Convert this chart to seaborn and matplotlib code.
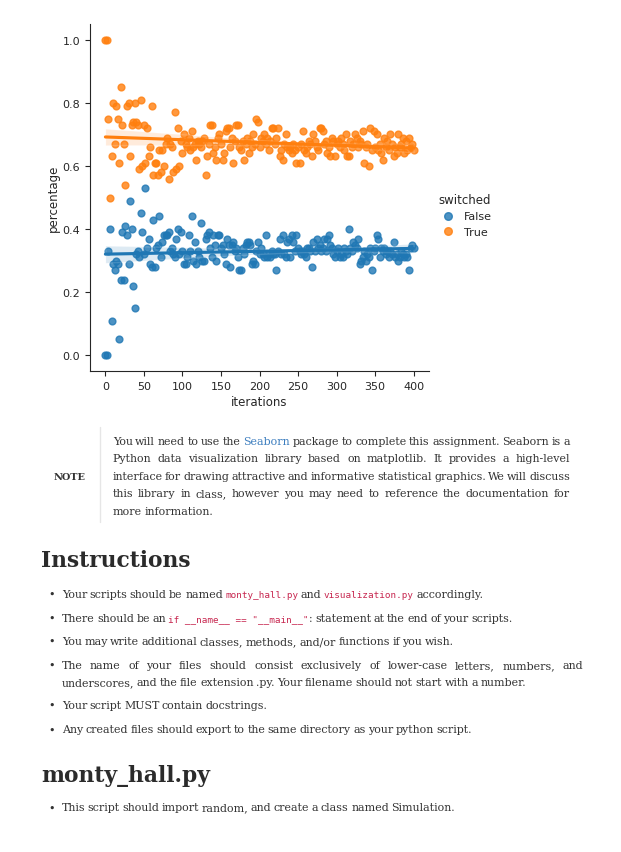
import matplotlib
matplotlib.use("Agg")
import numpy as np
import pandas as pd
import matplotlib.pyplot as plt
from matplotlib.lines import Line2D
import seaborn as sns


## DATOS DEL GRÁFICO ##

iterations = list(range(0, 401, 2))

# porcentaje de victorias sin cambiar de puerta (switched = False)
pct_stay = [
    0.00, 0.00, 0.33, 0.40, 0.11, 0.29, 0.27, 0.30, 0.29, 0.05,
    0.24, 0.39, 0.24, 0.41, 0.38, 0.29, 0.49, 0.40, 0.22, 0.15,
    0.32, 0.33, 0.31, 0.45, 0.39, 0.32, 0.53, 0.34, 0.37, 0.29,
    0.28, 0.43, 0.28, 0.34, 0.35, 0.44, 0.31, 0.36, 0.38, 0.38,
    0.38, 0.39, 0.33, 0.34, 0.32, 0.31, 0.37, 0.40, 0.32, 0.39,
    0.33, 0.29, 0.29, 0.31, 0.38, 0.33, 0.44, 0.30, 0.36, 0.29,
    0.33, 0.31, 0.42, 0.30, 0.30, 0.37, 0.38, 0.39, 0.34, 0.31,
    0.38, 0.35, 0.30, 0.38, 0.38, 0.34, 0.35, 0.32, 0.29, 0.37,
    0.35, 0.28, 0.35, 0.36, 0.33, 0.34, 0.31, 0.27, 0.27, 0.34,
    0.32, 0.35, 0.36, 0.36, 0.35, 0.29, 0.30, 0.29, 0.33, 0.36,
    0.32, 0.34, 0.32, 0.31, 0.38, 0.31, 0.32, 0.31, 0.33, 0.32,
    0.32, 0.27, 0.33, 0.37, 0.32, 0.38, 0.32, 0.31, 0.36, 0.37,
    0.31, 0.38, 0.36, 0.33, 0.38, 0.34, 0.33, 0.32, 0.33, 0.32,
    0.31, 0.34, 0.34, 0.33, 0.28, 0.36, 0.33, 0.37, 0.34, 0.35,
    0.33, 0.34, 0.37, 0.33, 0.37, 0.38, 0.35, 0.34, 0.32, 0.31,
    0.33, 0.34, 0.31, 0.32, 0.31, 0.34, 0.33, 0.32, 0.40, 0.34,
    0.33, 0.36, 0.35, 0.34, 0.37, 0.29, 0.30, 0.31, 0.33, 0.30,
    0.32, 0.31, 0.34, 0.27, 0.33, 0.34, 0.38, 0.37, 0.31, 0.34,
    0.33, 0.34, 0.32, 0.33, 0.31, 0.33, 0.32, 0.36, 0.31, 0.32,
    0.30, 0.31, 0.33, 0.32, 0.31, 0.32, 0.31, 0.27, 0.34, 0.35,
    0.34,
]

# porcentaje de victorias cambiando de puerta (switched = True)
pct_switch = [
    1.00, 1.00, 0.75, 0.50, 0.63, 0.80, 0.67, 0.79, 0.75, 0.61,
    0.85, 0.73, 0.67, 0.54, 0.79, 0.80, 0.63, 0.73, 0.74, 0.80,
    0.74, 0.73, 0.59, 0.81, 0.60, 0.73, 0.61, 0.72, 0.63, 0.66,
    0.79, 0.57, 0.61, 0.61, 0.57, 0.65, 0.58, 0.65, 0.60, 0.67,
    0.69, 0.56, 0.67, 0.66, 0.58, 0.77, 0.59, 0.72, 0.60, 0.68,
    0.64, 0.70, 0.67, 0.66, 0.69, 0.65, 0.71, 0.66, 0.67, 0.62,
    0.68, 0.67, 0.66, 0.68, 0.69, 0.57, 0.63, 0.67, 0.73, 0.73,
    0.64, 0.66, 0.62, 0.69, 0.70, 0.67, 0.62, 0.64, 0.71, 0.72,
    0.72, 0.66, 0.69, 0.61, 0.68, 0.73, 0.73, 0.66, 0.65, 0.68,
    0.62, 0.67, 0.69, 0.64, 0.68, 0.66, 0.70, 0.67, 0.75, 0.74,
    0.66, 0.69, 0.68, 0.70, 0.67, 0.69, 0.65, 0.68, 0.72, 0.72,
    0.67, 0.69, 0.72, 0.63, 0.65, 0.62, 0.67, 0.70, 0.66, 0.65,
    0.66, 0.64, 0.67, 0.65, 0.61, 0.66, 0.61, 0.67, 0.71, 0.65,
    0.64, 0.66, 0.68, 0.67, 0.63, 0.70, 0.68, 0.66, 0.65, 0.72,
    0.72, 0.71, 0.67, 0.68, 0.64, 0.66, 0.63, 0.69, 0.68, 0.63,
    0.67, 0.68, 0.66, 0.69, 0.67, 0.65, 0.70, 0.63, 0.63, 0.68,
    0.66, 0.67, 0.70, 0.69, 0.66, 0.68, 0.67, 0.71, 0.61, 0.66,
    0.67, 0.60, 0.72, 0.65, 0.71, 0.66, 0.70, 0.65, 0.67, 0.64,
    0.62, 0.69, 0.66, 0.68, 0.65, 0.70, 0.67, 0.63, 0.66, 0.64,
    0.70, 0.66, 0.67, 0.69, 0.64, 0.68, 0.65, 0.69, 0.66, 0.67,
    0.65,
]

switched_labels = ["False", "True"]

note_lines = [
    "You will need to use the Seaborn package to complete this assignment. Seaborn is a",
    "Python data visualization library based on matplotlib. It provides a high-level",
    "interface for drawing attractive and informative statistical graphics. We will discuss",
    "this library in class, however you may need to reference the documentation for",
    "more information.",
]


## ESTILO ##

sns.set_style("ticks")
plt.rcParams["font.family"] = ["DejaVu Sans"]

W, H = 621, 853
SERIF = "DejaVu Serif"
MONO = "DejaVu Sans Mono"
TXT = "#333333"
CODE = "#c7254e"
LINK = "#3d7ebf"
GAP = 0.7  # espacio entre palabras algo más estrecho que el de DejaVu

df = pd.DataFrame({
    "iterations": iterations * 2,
    "percentage": pct_stay + pct_switch,
    "switched": [False] * len(pct_stay) + [True] * len(pct_switch),
})

fig = plt.figure(figsize=(W / 100, H / 100), dpi=100)
fig.patch.set_facecolor("white")


## GRÁFICO DE REGRESIÓN ##

ax = fig.add_axes([90 / W, 1 - 372 / H, 339 / W, 347 / H])
palette = sns.color_palette()
for i, (flag, grp) in enumerate(df.groupby("switched")):
    sns.regplot(data=grp, x="iterations", y="percentage", ax=ax,
                color=palette[i], scatter_kws={"s": 24}, seed=0)

ax.set_xlim(-20, 420)
ax.set_ylim(-0.05, 1.05)
ax.set_xticks(range(0, 401, 50))
ax.set_yticks([0.0, 0.2, 0.4, 0.6, 0.8, 1.0])
ax.tick_params(labelsize=8, length=3.5, width=0.8)
ax.set_xlabel("iterations", fontsize=8.5, labelpad=3)
ax.set_ylabel("percentage", fontsize=8.5, labelpad=2)
sns.despine(ax=ax)

handles = [Line2D([], [], marker="o", ls="", color=palette[i], alpha=0.8,
                  markersize=5.5) for i in range(2)]
fig.legend(handles, switched_labels, title="switched", loc="center left",
           bbox_to_anchor=(427 / W, 1 - 216 / H), frameon=False,
           fontsize=8, title_fontsize=8.5, handletextpad=0.4, labelspacing=0.5)


## TEXTO DEL DOCUMENTO ##

renderer = fig.canvas.get_renderer()


def measure(s, **kw):
    t = fig.text(0, 0, s, **kw)
    w = t.get_window_extent(renderer).width
    t.remove()
    return w


def adv(s, **kw):
    # avance real del texto, entre dos barras
    return measure("|" + s + "|", **kw) - measure("||", **kw)


def words(s, st, gap_first=True):
    out = []
    for k, w in enumerate(s.split()):
        out.append((w, st, gap_first or k > 0))
    return out


def natural_width(s, st):
    ws = s.split()
    return sum(adv(w, **st) for w in ws) + (len(ws) - 1) * GAP * adv(" ", **st)


# el tamaño del cuerpo se ajusta al ancho de una línea del original
calib = "underscores, and the file extension .py. Your filename should not start with a number."
body = dict(family=SERIF, size=10, color=TXT)
body["size"] = 10 * 466 / natural_width(calib, body)
mono = dict(family=MONO, size=10, color=CODE)
mono["size"] = 10 * 73 / adv("monty_hall.py", **mono)
head = dict(family=SERIF, size=10, weight="bold", color="#2b2b2b")
head["size"] = 10 * 150 / adv("Instructions", **head)
note = dict(family=SERIF, size=10, weight="bold", color=TXT)
note["size"] = 10 * 32 / adv("NOTE", **note)
link = dict(body, color=LINK)

space_w = GAP * adv(" ", **body)


def draw_tokens(x0, base, tokens, x1=None):
    # cada token: (texto, estilo, espacio antes)
    widths = [adv(t, **st) for t, st, g in tokens]
    n_gaps = sum(1 for t, st, g in tokens[1:] if g)
    gap = space_w
    if x1 is not None and n_gaps:
        gap = (x1 - x0 - sum(widths)) / n_gaps
    x = x0
    for k, ((t, st, g), w) in enumerate(zip(tokens, widths)):
        if k > 0 and g:
            x += gap
        fig.text(x / W, 1 - base / H, t, va="baseline", ha="left", **st)
        x += w


def bullet(base):
    fig.text(51.7 / W, 1 - base / H, "\u2022", va="baseline", ha="center", **body)


# bloque NOTE
fig.add_artist(Line2D([99.5 / W, 99.5 / W], [1 - 428 / H, 1 - 523 / H],
                      color="#e6e6e6", lw=1))
fig.text(54 / W, 1 - 480.5 / H, "NOTE", va="baseline", ha="left", **note)

note_base = [445.0, 462.5, 480.0, 497.5, 515.0]
first = note_lines[0].split(" Seaborn ", 1)
toks = words(first[0], body) + [("Seaborn", link, True)] + words(first[1], body)
draw_tokens(112.7, note_base[0], toks, x1=570)
for line, b in zip(note_lines[1:4], note_base[1:4]):
    draw_tokens(112.7, b, words(line, body), x1=570)
draw_tokens(112.7, note_base[4], words(note_lines[4], body))

# Instructions
fig.text(41.5 / W, 1 - 567.3 / H, "Instructions", va="baseline", ha="left", **head)

bullet(597.5)
draw_tokens(61.7, 597.5,
            words("Your scripts should be named", body)
            + [("monty_hall.py", mono, True)] + words("and", body)
            + [("visualization.py", mono, True)] + words("accordingly.", body))

bullet(621.8)
draw_tokens(61.7, 621.8,
            words("There should be an", body)
            + [('if __name__ == "__main__"', mono, True), (":", body, False)]
            + words("statement at the end of your scripts.", body))

bullet(645.2)
draw_tokens(61.7, 645.2, words("You may write additional classes, methods, and/or functions if you wish.", body))

bullet(669.2)
draw_tokens(61.7, 669.2, words("The name of your files should consist exclusively of lower-case letters, numbers, and", body), x1=583)
draw_tokens(61.7, 685.8, words(calib, body))

bullet(709.2)
draw_tokens(61.7, 709.2, words("Your script MUST contain docstrings.", body))

bullet(733.5)
draw_tokens(61.7, 733.5, words("Any created files should export to the same directory as your python script.", body))

# monty_hall.py
fig.text(41.5 / W, 1 - 782 / H, "monty_hall.py", va="baseline", ha="left", **head)

bullet(811.5)
draw_tokens(61.7, 811.5, words("This script should import random, and create a class named Simulation.", body))

fig.savefig("out.png", dpi=100)
